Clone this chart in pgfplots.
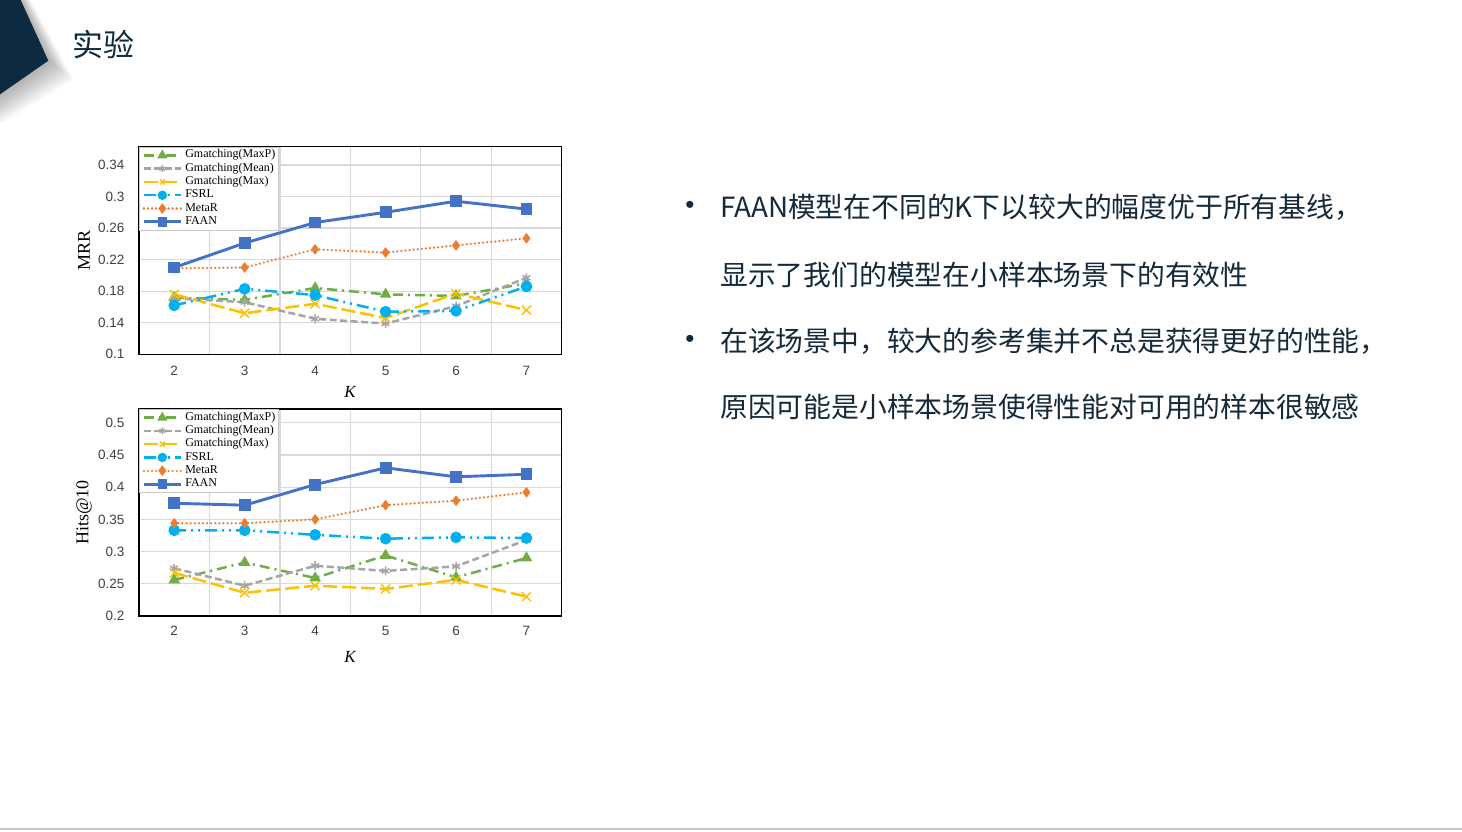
\documentclass[border=0pt]{standalone}
\usepackage{fontspec}
\setmainfont{Liberation Serif}
\newfontfamily\cjk{Noto Sans CJK SC}
\newfontfamily\arial{Liberation Sans}
\usepackage{pgfplots}
\pgfplotsset{compat=1.18}
\definecolor{navy}{HTML}{0E2A40}
\definecolor{txt}{HTML}{15293A}
\definecolor{gridc}{HTML}{D9D9D9}
\definecolor{tickc}{HTML}{404040}
\definecolor{cfaan}{HTML}{4472C4}
\definecolor{cmeta}{HTML}{ED7D31}
\definecolor{cmean}{HTML}{A5A5A5}
\definecolor{cmax}{HTML}{FFC000}
\definecolor{cfsrl}{HTML}{00B0F0}
\definecolor{cmaxp}{HTML}{70AD47}
\definecolor{lgray}{HTML}{C8C8C8}

\pgfplotsset{
  myax/.style={
    scale only axis, width=422.7pt, anchor=south west,
    xmin=1.5, xmax=7.5, xtick={2,3,4,5,6,7},
    minor xtick={2.5,3.5,4.5,5.5,6.5},
    xminorgrids=true, ymajorgrids=true,
    major tick length=0pt, minor tick length=0pt,
    grid style={gridc, line width=1.2pt},
    minor grid style={gridc, line width=1.2pt},
    axis line style={black, line width=1.4pt},
    /pgf/number format/assume math mode=true,
    tick label style={font=\arial\fontsize{13.5}{13.5}\selectfont, text=tickc},
    yticklabel style={anchor=east, inner sep=0pt, xshift=-14.5pt,
      /pgf/number format/fixed, /pgf/number format/precision=2},
    xticklabel style={anchor=north, inner sep=0pt, text height=9.7pt, text depth=0pt},
    xlabel={\textit{K}},
    xlabel style={font=\fontsize{17}{17}\selectfont, at={(axis description cs:0.5,0)}, anchor=center},
    ylabel style={font=\fontsize{18}{18}\selectfont, at={(axis description cs:0,0.5)}, anchor=center, yshift=55pt},
    legend cell align=left,
    legend style={at={(0,1)}, anchor=north west, draw=lgray, fill=white,
      line width=0.8pt, inner xsep=3pt, inner ysep=1.5pt, column sep=3pt,
      font=\fontsize{12}{12}\selectfont,
      nodes={inner sep=0pt, text height=9.3pt, text depth=4pt}},
    legend image code/.code={\draw[mark repeat=2,mark phase=2,mark size=3.4pt] plot coordinates {(0pt,0pt) (18.5pt,0pt) (37pt,0pt)};},
  },
  smaxp/.style={cmaxp, line width=2.5pt, dash pattern=on 10pt off 5pt on 2pt off 5pt, mark=triangle*, mark size=4.2pt, mark options={solid}},
  smean/.style={cmean, line width=2.5pt, dash pattern=on 7pt off 3.5pt, mark=asterisk, mark size=4.5pt, mark options={solid, line width=1.5pt}},
  smax/.style={cmax, line width=2.5pt, dash pattern=on 14pt off 5pt, mark=x, mark size=6.3pt, mark options={solid, line width=1.4pt}},
  sfsrl/.style={cfsrl, line width=2.5pt, dash pattern=on 12pt off 5pt on 2pt off 5pt on 2pt off 5pt, mark=*, mark size=4.5pt, mark options={solid}},
  smeta/.style={cmeta, line width=2.4pt, line cap=round, dash pattern=on 0.1pt off 4pt, mark=diamond*, mark size=3.4pt, mark options={solid}},
  sfaan/.style={cfaan, line width=2.9pt, mark=square*, mark size=4.5pt, mark options={solid}},
}

\begin{document}
\begin{tikzpicture}[x=1pt,y=1pt]
\path[use as bounding box] (0pt,0pt) rectangle (1462pt,831pt);
\fill[white] (0pt,0pt) rectangle (1462pt,831pt);
% corner shape with soft shadow
\foreach \i in {1,...,16} {
  \fill[black, opacity=0.018] (0pt,831pt) -- ({20.7pt+\i*0.6pt},831pt) -- ({48.3pt+\i*1.6pt},{770.3pt-\i*1.2pt}) -- (0pt,{736.7pt-\i*1.9pt}) -- cycle;
}
\fill[navy] (0pt,831pt) -- (20.7pt,831pt) -- (48.3pt,770.3pt) -- (0pt,736.7pt) -- cycle;
\node[font=\cjk\fontsize{31}{31}\selectfont, text=navy, inner sep=0pt] at (103pt,786pt) {实验};

% right text
\begin{scope}[every node/.style={inner sep=0pt, anchor=west, text=txt, font=\cjk\fontsize{27.8}{27.8}\selectfont}]
\node at (720pt,624pt) {FAAN模型在不同的K下以较大的幅度优于所有基线，};
\node at (720pt,556.5pt) {显示了我们的模型在小样本场景下的有效性};
\node at (720pt,489.5pt) {在该场景中，较大的参考集并不总是获得更好的性能，};
\node at (720pt,424pt) {原因可能是小样本场景使得性能对可用的样本很敏感};
\end{scope}
\node[inner sep=0pt, text=txt, font=\arial\fontsize{26}{26}\selectfont] at (690pt,624pt) {•};
\node[inner sep=0pt, text=txt, font=\arial\fontsize{26}{26}\selectfont] at (690pt,489.5pt) {•};

% bottom line
\draw[lgray, line width=2pt] (0pt,2pt) -- (1462pt,2pt);

% top chart: MRR
\begin{axis}[myax, at={(139pt,476.7pt)}, height=207.5pt,
  ymin=0.1, ymax=0.363, ytick={0.1,0.14,0.18,0.22,0.26,0.3,0.34},
  ylabel={MRR}, xlabel style={yshift=-37.5pt}, xticklabel style={yshift=-11.5pt}]
\addplot[smaxp] coordinates {(2,0.172) (3,0.169) (4,0.184) (5,0.176) (6,0.174) (7,0.190)};
\addlegendentry{Gmatching(MaxP)}
\addplot[smean] coordinates {(2,0.171) (3,0.166) (4,0.145) (5,0.139) (6,0.161) (7,0.197)};
\addlegendentry{Gmatching(Mean)}
\addplot[smax] coordinates {(2,0.176) (3,0.152) (4,0.164) (5,0.146) (6,0.177) (7,0.156)};
\addlegendentry{Gmatching(Max)}
\addplot[sfsrl] coordinates {(2,0.162) (3,0.183) (4,0.175) (5,0.154) (6,0.155) (7,0.186)};
\addlegendentry{FSRL}
\addplot[smeta] coordinates {(2,0.209) (3,0.210) (4,0.233) (5,0.229) (6,0.238) (7,0.247)};
\addlegendentry{MetaR}
\addplot[sfaan] coordinates {(2,0.210) (3,0.241) (4,0.267) (5,0.280) (6,0.294) (7,0.284)};
\addlegendentry{FAAN}
\end{axis}

% bottom chart: Hits@10
\begin{axis}[myax, at={(139pt,215pt)}, height=207pt,
  ymin=0.2, ymax=0.5213, ytick={0.2,0.25,0.3,0.35,0.4,0.45,0.5},
  ylabel={Hits@10}, xlabel style={yshift=-40.5pt}, xticklabel style={yshift=-9.9pt}]
\addplot[smaxp] coordinates {(2,0.256) (3,0.283) (4,0.259) (5,0.294) (6,0.260) (7,0.290)};
\addlegendentry{Gmatching(MaxP)}
\addplot[smean] coordinates {(2,0.274) (3,0.247) (4,0.278) (5,0.270) (6,0.277) (7,0.318)};
\addlegendentry{Gmatching(Mean)}
\addplot[smax] coordinates {(2,0.267) (3,0.236) (4,0.247) (5,0.242) (6,0.256) (7,0.230)};
\addlegendentry{Gmatching(Max)}
\addplot[sfsrl] coordinates {(2,0.333) (3,0.333) (4,0.326) (5,0.320) (6,0.322) (7,0.321)};
\addlegendentry{FSRL}
\addplot[smeta] coordinates {(2,0.344) (3,0.344) (4,0.350) (5,0.372) (6,0.379) (7,0.392)};
\addlegendentry{MetaR}
\addplot[sfaan] coordinates {(2,0.375) (3,0.372) (4,0.404) (5,0.430) (6,0.416) (7,0.420)};
\addlegendentry{FAAN}
\end{axis}
\end{tikzpicture}
\end{document}
